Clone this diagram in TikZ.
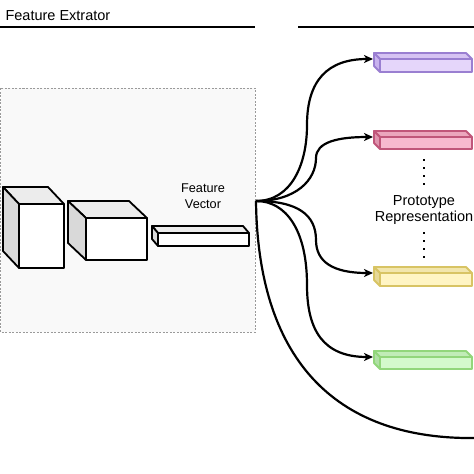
\documentclass[tikz,border=0pt]{standalone}
\usepackage{fontspec}
\setmainfont{Liberation Sans}
\usepackage{tikz}
\usetikzlibrary{arrows.meta}
\tikzset{
  >={Stealth[length=9pt,width=8pt,inset=2.5pt]},
}
\definecolor{boxgray}{HTML}{F9F9F9}
\definecolor{dashgray}{HTML}{9A9A9A}
\definecolor{sidegray}{HTML}{D9D9D9}
\definecolor{topgray}{HTML}{ECECEC}
\definecolor{purpF}{HTML}{E5D6FA}
\definecolor{purpT}{HTML}{D6C3F3}
\definecolor{purpS}{HTML}{C8B2EE}
\definecolor{purpD}{HTML}{9A7FD1}
\definecolor{pinkF}{HTML}{F7B9CF}
\definecolor{pinkT}{HTML}{EBA6BD}
\definecolor{pinkS}{HTML}{DF94AE}
\definecolor{pinkD}{HTML}{C0567A}
\definecolor{yellF}{HTML}{FFF5C4}
\definecolor{yellT}{HTML}{F2E6AD}
\definecolor{yellS}{HTML}{E6D898}
\definecolor{yellD}{HTML}{D8C464}
\definecolor{grnF}{HTML}{D4F9CC}
\definecolor{grnT}{HTML}{C1ECB7}
\definecolor{grnS}{HTML}{B0E0A5}
\definecolor{grnD}{HTML}{92D67B}
\tikzstyle{face}=[line width=1.8pt,line join=round,inner sep=0pt,outer sep=0pt]
\tikzstyle{rule}=[line width=2.3pt]
\tikzstyle{link}=[line width=2.2pt,->]
\tikzstyle{every node}=[font=\fontsize{14.5}{16}\selectfont]
% cuboid: name, front top left, width, height, depth shift, front, top, side, outline
\newcommand{\cuboid}[9]{%
  \node[face,draw=#9,fill=#6,minimum width=#3,minimum height=#4,anchor=north west] (#1) at #2 {};
  \draw[face,draw=#9,fill=#7] (#1.north west) -- ++#5 -- ++(#3,0) -- (#1.north east) -- cycle;
  \draw[face,draw=#9,fill=#8] (#1.north west) -- ++#5 -- ++(0,#4) -- (#1.south west) -- cycle;
}

\begin{document}
\begin{tikzpicture}[x=1pt,y=-1pt]
    \useasboundingbox (0,0) rectangle (474,474);
    \node[anchor=west] (title) at (2,16) {Feature Extrator};
    \draw[rule] (0,27) -- (255,27);
    \draw[rule] (298,27) -- (474,27);
    \draw[dashgray,fill=boxgray,line width=1pt,dash pattern=on 2pt off 1.5pt] (0.5,88) rectangle (255,332);
    % extractor
    \cuboid{c1}{(19,204)}{45}{64}{(-16,-17)}{white}{topgray}{sidegray}{black}
    \cuboid{c2}{(86,218)}{61}{42}{(-18,-17)}{white}{topgray}{sidegray}{black}
    \cuboid{fv}{(158,233)}{91}{13}{(-6,-7)}{white}{topgray}{sidegray}{black}
    \node[align=center,font=\fontsize{12.7}{16}\selectfont] (fvlabel) at (203,196) {Feature\\Vector};
    % prototypes
    \cuboid{p1}{(380,59)}{92}{13}{(-6,-6)}{purpF}{purpT}{purpS}{purpD}
    \cuboid{p2}{(380,137)}{92}{12}{(-6,-6)}{pinkF}{pinkT}{pinkS}{pinkD}
    \cuboid{p3}{(380,273)}{92}{13}{(-6,-6)}{yellF}{yellT}{yellS}{yellD}
    \cuboid{p4}{(380,357)}{92}{12}{(-6,-6)}{grnF}{grnT}{grnS}{grnD}
    \node[align=center] (proto) at (424,210) {Prototype\\Representation};
    \foreach \y in {160,168,176,184,233,241,249,257}
      \fill (422.7,\y-1.3) rectangle ++(2.6,2.6);
    % links
    \coordinate (split) at (256,201);
    \coordinate (out) at (476,438);
    \draw[link] (split) .. controls +(35,0) and +(0,40) .. (307,125)
      .. controls +(0,-45) and +(-45,0) .. ([xshift=-7pt]p1.north west);
    \draw[link] (split) .. controls +(40,0) and +(0,22) .. (316,158)
      .. controls +(0,-16) and +(-35,0) .. ([xshift=-7pt]p2.north west);
    \draw[link] (split) .. controls +(42,0) and +(0,-25) .. (316,240)
      .. controls +(0,22) and +(-40,0) .. ([xshift=-7pt]p3.north west);
    \draw[link] (split) .. controls +(30,0) and +(0,-55) .. (307,285)
      .. controls +(0,45) and +(-50,0) .. ([xshift=-7pt]p4.north west);
    \draw[line width=2.2pt] (split) .. controls +(2,165) and +(-135,2) .. (out);
\end{tikzpicture}
\end{document}
